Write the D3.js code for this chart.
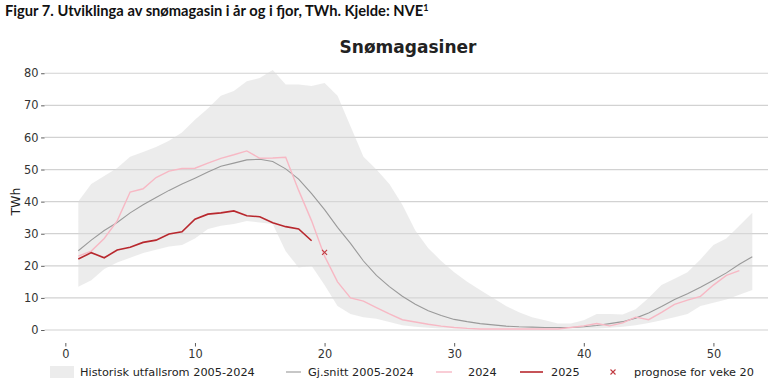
<!DOCTYPE html>
<html>
<head>
<meta charset="utf-8">
<script src="https://cdn.jsdelivr.net/npm/d3@7"></script>
<style>
  body { margin: 0; background: #fff; }
  svg { display: block; }
</style>
</head>
<body>
<div id="graph_draw"></div>
<script>
// data (TWh per week)
var weeks = d3.range(1, 54);
var band_upper = [40, 45.5, 48, 50.5, 54, 55.5, 57, 59, 61.5, 65.5, 69, 73, 74.5, 77.5, 78.5, 81, 76.5, 76.5, 76, 77,
    73, 63.5, 54, 50, 45.5, 39, 31, 25.5, 21.5, 18, 15, 12.5, 10, 7.5, 5.5, 4, 3, 2, 2, 3,
    5, 5, 4.8, 6.5, 10, 14, 16, 18, 22, 26.5, 28.5, 32.5, 36.5];
var band_lower = [13.5, 15.5, 19, 21, 22.5, 24, 25, 26, 26.5, 28.5, 31.5, 32.5, 33, 34, 33.5, 33, 24.5, 19.5, 20, 14,
    7.5, 5, 4, 3.5, 2.5, 1.5, 1, 0.7, 0.5, 0.5, 0.5, 0.5, 0.5, 0.5, 0.5, 0.5, 0.5, 0.5, 0.5, 0.5,
    0.5, 0.7, 1, 1.5, 2.2, 3, 4, 5, 7.5, 8.5, 9.5, 11, 12.5];
var mean_values = [24.7, 28, 31, 33.5, 36.5, 39, 41.3, 43.5, 45.5, 47.3, 49.2, 51, 52, 53, 53.2, 52.5, 50.2, 47, 42.5, 37.5,
    32, 27, 21.5, 17, 13.5, 10.5, 8, 6, 4.5, 3.3, 2.6, 2, 1.6, 1.2, 1, 0.9, 0.8, 0.8, 0.8, 1,
    1.4, 2, 2.6, 3.7, 5.3, 7.3, 9.5, 11.3, 13.3, 15.5, 17.8, 20.5, 22.8];
var values_2024 = [23, 24.6, 28.5, 34, 43, 44, 47.5, 49.5, 50.3, 50.4, 52, 53.5, 54.6, 55.8, 53.5, 53.6, 53.8, 43.5, 34, 23,
    15, 10, 9, 7, 5, 3.2, 2.5, 1.8, 1.2, 0.8, 0.5, 0.3, 0.3, 0.3, 0.3, 0.3, 0.3, 0.3, 0.8, 1.3,
    2, 1.3, 2.2, 4, 3.2, 5.5, 8, 9.3, 10.5, 14, 17, 18.5];
var values_2025 = [22.1, 24.1, 22.5, 24.9, 25.8, 27.3, 28, 29.9, 30.6, 34.5, 36.1, 36.5, 37.1, 35.6, 35.3, 33.4, 32.2, 31.5, 27.8];
var forecast = {week: 20, value: 24.2};
var y_ticks = [0, 10, 20, 30, 40, 50, 60, 70, 80];
var x_ticks = [0, 10, 20, 30, 40, 50];
var legend_labels = ["Historisk utfallsrom 2005-2024", "Gj.snitt 2005-2024", "2024", "2025", "prognose for veke 20"];

var width = 768, height = 388;
var font = "DejaVu Sans, sans-serif";

var svg = d3.select("#graph_draw").append("svg")
    .attr("width", width)
    .attr("height", height);

// scales (matplotlib style margins)
var x = d3.scaleLinear().domain([-1.6, 55.6]).range([44.6, 786]);
var y = d3.scaleLinear().domain([-4.05, 85]).range([343, 57.2]);

// figure caption
svg.append("text")
    .attr("x", 5).attr("y", 16)
    .attr("font-family", "Lato, sans-serif")
    .attr("font-weight", "bold")
    .attr("font-size", 14.7)
    .attr("fill", "#111")
    .text("Figur 7. Utviklinga av snømagasin i år og i fjor, TWh. Kjelde: NVE")
    .append("tspan")
    .attr("dy", -5).attr("font-size", 9)
    .text("1");

// chart title
svg.append("text")
    .attr("x", 408).attr("y", 53)
    .attr("text-anchor", "middle")
    .attr("font-family", font)
    .attr("font-weight", "bold")
    .attr("font-size", 17)
    .attr("fill", "#222")
    .text("Snømagasiner");

// gridlines
svg.append("g").selectAll("line")
    .data(y_ticks)
    .enter().append("line")
    .attr("x1", x.range()[0]).attr("x2", width)
    .attr("y1", function(d) { return y(d); })
    .attr("y2", function(d) { return y(d); })
    .attr("stroke", "#d2d2d2")
    .attr("stroke-width", 1.2);

// y axis
var yAxis = svg.append("g")
    .attr("transform", "translate(" + x.range()[0] + ",0)")
    .call(d3.axisLeft(y).tickValues(y_ticks).tickSize(3.5).tickPadding(2.5));
yAxis.select(".domain").remove();
yAxis.selectAll(".tick line").attr("stroke", "#333").attr("stroke-width", 0.8);
yAxis.selectAll(".tick text").attr("font-family", font).attr("font-size", 11.4).attr("fill", "#333");

// x axis
var xAxis = svg.append("g")
    .attr("transform", "translate(0," + y.range()[0] + ")")
    .call(d3.axisBottom(x).tickValues(x_ticks).tickSize(3.5).tickPadding(3));
xAxis.select(".domain").remove();
xAxis.selectAll(".tick line").attr("stroke", "#333").attr("stroke-width", 0.8);
xAxis.selectAll(".tick text").attr("font-family", font).attr("font-size", 11.4).attr("fill", "#333");

// y label
svg.append("text")
    .attr("transform", "translate(19.5," + y(40) + ") rotate(-90)")
    .attr("text-anchor", "middle")
    .attr("font-family", font)
    .attr("font-size", 12.5)
    .attr("fill", "#222")
    .text("TWh");

// historic range band
var area = d3.area()
    .x(function(d, i) { return x(weeks[i]); })
    .y0(function(d, i) { return y(band_lower[i]); })
    .y1(function(d, i) { return y(band_upper[i]); });

svg.append("path")
    .datum(weeks)
    .attr("d", area)
    .attr("fill", "#d9d9d9")
    .attr("fill-opacity", 0.5);

var line = d3.line()
    .x(function(d, i) { return x(weeks[i]); })
    .y(function(d) { return y(d); });

// mean
svg.append("path")
    .datum(mean_values)
    .attr("d", line)
    .attr("fill", "none")
    .attr("stroke", "#9a9a9a")
    .attr("stroke-width", 1.1);

// 2024
svg.append("path")
    .datum(values_2024)
    .attr("d", line)
    .attr("fill", "none")
    .attr("stroke", "#f7b8c4")
    .attr("stroke-width", 1.4);

// 2025
svg.append("path")
    .datum(values_2025)
    .attr("d", line)
    .attr("fill", "none")
    .attr("stroke", "#b8282e")
    .attr("stroke-width", 1.6);

// forecast marker
function cross(g, cx, cy, r) {
    g.append("path")
        .attr("d", "M" + (cx - r) + "," + (cy - r) + "L" + (cx + r) + "," + (cy + r) +
            "M" + (cx - r) + "," + (cy + r) + "L" + (cx + r) + "," + (cy - r))
        .attr("stroke", "#c0393f")
        .attr("stroke-width", 1.1)
        .attr("fill", "none");
}
cross(svg, x(forecast.week), y(forecast.value), 2.5);

// legend
var ly = 372;
var legend = svg.append("g").attr("font-family", font).attr("font-size", 11.3).attr("fill", "#222");

legend.append("rect")
    .attr("x", 50).attr("y", ly - 6).attr("width", 24).attr("height", 12)
    .attr("fill", "#d9d9d9").attr("fill-opacity", 0.5);
legend.append("text").attr("x", 80).attr("y", ly + 4).text(legend_labels[0]);

legend.append("line").attr("x1", 286).attr("x2", 301).attr("y1", ly).attr("y2", ly)
    .attr("stroke", "#9a9a9a").attr("stroke-width", 1.1);
legend.append("text").attr("x", 308).attr("y", ly + 4).text(legend_labels[1]);

legend.append("line").attr("x1", 436).attr("x2", 452).attr("y1", ly).attr("y2", ly)
    .attr("stroke", "#f7b8c4").attr("stroke-width", 1.4);
legend.append("text").attr("x", 468).attr("y", ly + 4).text(legend_labels[2]);

legend.append("line").attr("x1", 520).attr("x2", 543).attr("y1", ly).attr("y2", ly)
    .attr("stroke", "#b8282e").attr("stroke-width", 1.6);
legend.append("text").attr("x", 551).attr("y", ly + 4).text(legend_labels[3]);

cross(legend, 613, ly, 2.5);
legend.append("text").attr("x", 634).attr("y", ly + 4).text(legend_labels[4]);
</script>
</body>
</html>
